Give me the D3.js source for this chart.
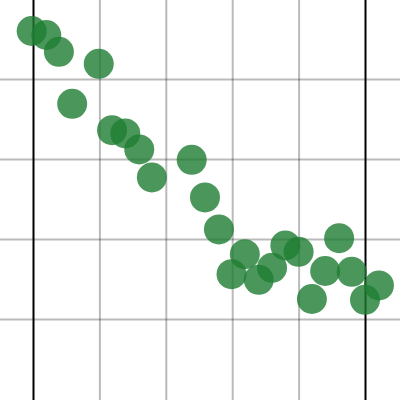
<!DOCTYPE html>
<html>
<head>
<meta charset="utf-8">
<script src="https://cdn.jsdelivr.net/npm/d3@7"></script>
<style>
  html, body { margin: 0; padding: 0; background: #fff; }
  svg { display: block; }
</style>
</head>
<body>
<div id="chart"></div>
<script>
// values
const xValues = [-0.02, 0.20, 0.39, 0.99, 0.59, 1.19, 1.39, 1.60, 1.79, 2.39, 2.59, 2.80,
                 3.19, 2.99, 3.40, 3.60, 3.80, 4.00, 4.40, 4.61, 4.20, 4.80, 5.00, 5.21]
const yValues = [4.60, 4.55, 4.34, 4.19, 3.69, 3.36, 3.32, 3.12, 2.77, 2.99, 2.52, 2.12,
                 1.81, 1.56, 1.49, 1.64, 1.92, 1.84, 1.60, 2.01, 1.25, 1.59, 1.24, 1.42]
const xTicks = [0, 1, 2, 3, 4, 5]
const yTicks = [1, 2, 3, 4]
const boldX  = [0, 5]

const width = 400, height = 400, R = 15

const x = d3.scaleLinear().domain([-0.497, 5.527]).range([0, width])
const y = d3.scaleLinear().domain([0, 5]).range([399, -1])

const svg = d3.select('#chart').append('svg')
  .attr('width', width).attr('height', height)

svg.append('rect').attr('width', width).attr('height', height).attr('fill', '#fff')

const grid = svg.append('g')

grid.append('g')
  .attr('transform', `translate(0,${height})`)
  .call(d3.axisBottom(x).tickValues(xTicks).tickSize(height).tickFormat(''))
  .call(g => g.select('.domain').remove())
  .call(g => g.selectAll('.tick line')
    .attr('transform', `translate(0,${-height})`)
    .attr('y1', 0).attr('y2', height)
    .attr('stroke', d => boldX.includes(d) ? '#000' : 'rgba(0,0,0,0.27)')
    .attr('stroke-width', 2))

grid.append('g')
  .call(d3.axisLeft(y).tickValues(yTicks).tickSize(-width).tickFormat(''))
  .call(g => g.select('.domain').remove())
  .call(g => g.selectAll('.tick line')
    .attr('stroke', 'rgba(0,0,0,0.27)')
    .attr('stroke-width', 2))

const points = xValues.map((v, i) => ({ x: v, y: yValues[i] }))

svg.append('g').selectAll('circle').data(points).enter().append('circle')
  .attr('cx', d => x(d.x))
  .attr('cy', d => y(d.y))
  .attr('r', R)
  .attr('fill', '#1e7d32')
  .attr('fill-opacity', 0.8)
</script>
</body>
</html>
